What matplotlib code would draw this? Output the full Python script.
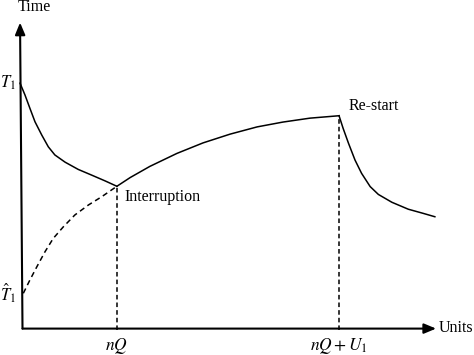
import matplotlib
matplotlib.use("Agg")
import matplotlib.pyplot as plt

plt.rcParams['font.family'] = ['Liberation Serif', 'DejaVu Serif']
plt.rcParams['mathtext.fontset'] = 'stix'

# ---- data (units on x, time on y; arbitrary 0-100 scale) ----
decay_x = [-0.6, 0.6, 1.8, 3.05, 4.7, 6.3, 7.9, 10.4, 13.6, 16.9, 20.15, 23.05]
decay_y = [81.7, 77.8, 73.4, 68.9, 64.5, 60.6, 57.9, 55.5, 53.1, 51.2, 49.3, 47.5]

rise_x = [23.05, 26.3, 31.1, 37.7, 44.1, 50.7, 57.3, 63.6, 70.2, 77.3]
rise_y = [47.5, 50.4, 54.1, 58.4, 61.9, 64.8, 67.2, 68.8, 70.1, 70.9]

fall_x = [77.3, 78.3, 79.6, 81.2, 82.8, 84.9, 86.9, 90.2, 94.2, 97.9, 100.7]
fall_y = [70.9, 66.7, 61.8, 56.2, 51.8, 47.4, 44.8, 42.2, 39.9, 38.5, 37.4]

dash_x = [0.2, 1.8, 3.5, 5.5, 7.5, 10.0, 12.8, 16.1, 19.3, 23.05]
dash_y = [12.0, 16.4, 20.8, 25.8, 30.2, 34.1, 38.0, 41.3, 44.0, 47.5]

x_ticks = [23.05, 77.3]
x_tick_labels = [r'$nQ$', r'$nQ + U_1$']
y_ticks = [81.7, 12.0]
y_tick_labels = [r'$T_1$', r'$\hat{T}_1$']

W, H = 474, 355
fig = plt.figure(figsize=(W / 100, H / 100), dpi=100)
ax = fig.add_axes([22.5 / W, (H - 329.5) / H, 409.5 / W, 301.5 / H])
ax.set_xlim(0, 100)
ax.set_ylim(0, 100)
ax.axis('off')

lw = 1.1
ax.plot(decay_x, decay_y, color='black', lw=lw, clip_on=False,
        solid_joinstyle='round')
ax.plot(rise_x, rise_y, color='black', lw=lw, clip_on=False,
        solid_joinstyle='round')
ax.plot(fall_x, fall_y, color='black', lw=lw, clip_on=False,
        solid_joinstyle='round')
ax.plot(dash_x, dash_y, color='black', lw=lw, ls=(0, (3.5, 2.5)), clip_on=False)

# vertical dashed guides
ax.plot([x_ticks[0], x_ticks[0]], [0, rise_y[0]], color='black', lw=lw,
        ls=(0, (3.0, 2.0)), clip_on=False)
ax.plot([x_ticks[1], x_ticks[1]], [0, rise_y[-1]], color='black', lw=lw,
        ls=(0, (3.0, 2.0)), clip_on=False)

# axes with arrows
arrow = dict(arrowstyle='-|>,head_length=0.6,head_width=0.25', color='black',
             lw=1.5, shrinkA=0, shrinkB=0, mutation_scale=12)
ax.annotate('', xy=(101.0, 0.3), xytext=(0, 0.3), arrowprops=arrow,
            annotation_clip=False)
ax.annotate('', xy=(-0.6, 101.8), xytext=(0, 0.3), arrowprops=arrow,
            annotation_clip=False)

fs = 11.5
ax.text(2.8, 105.5, 'Time', fontsize=fs, ha='center', va='baseline', clip_on=False)
ax.text(101.7, 0.6, 'Units', fontsize=fs, ha='left', va='center', clip_on=False)
ax.text(25.0, 42.5, 'Interruption', fontsize=fs, ha='left', va='baseline')
ax.text(79.6, 72.8, 'Re-start', fontsize=fs, ha='left', va='baseline')

for xv, lab in zip(x_ticks, x_tick_labels):
    ax.text(xv, -5.6, lab, fontsize=fs + 1, ha='center', va='center', clip_on=False)
for yv, lab in zip(y_ticks, y_tick_labels):
    ax.text(-1.5, yv, lab, fontsize=fs + 0.5, ha='right', va='center', clip_on=False)

fig.savefig('out.png', dpi=100)
